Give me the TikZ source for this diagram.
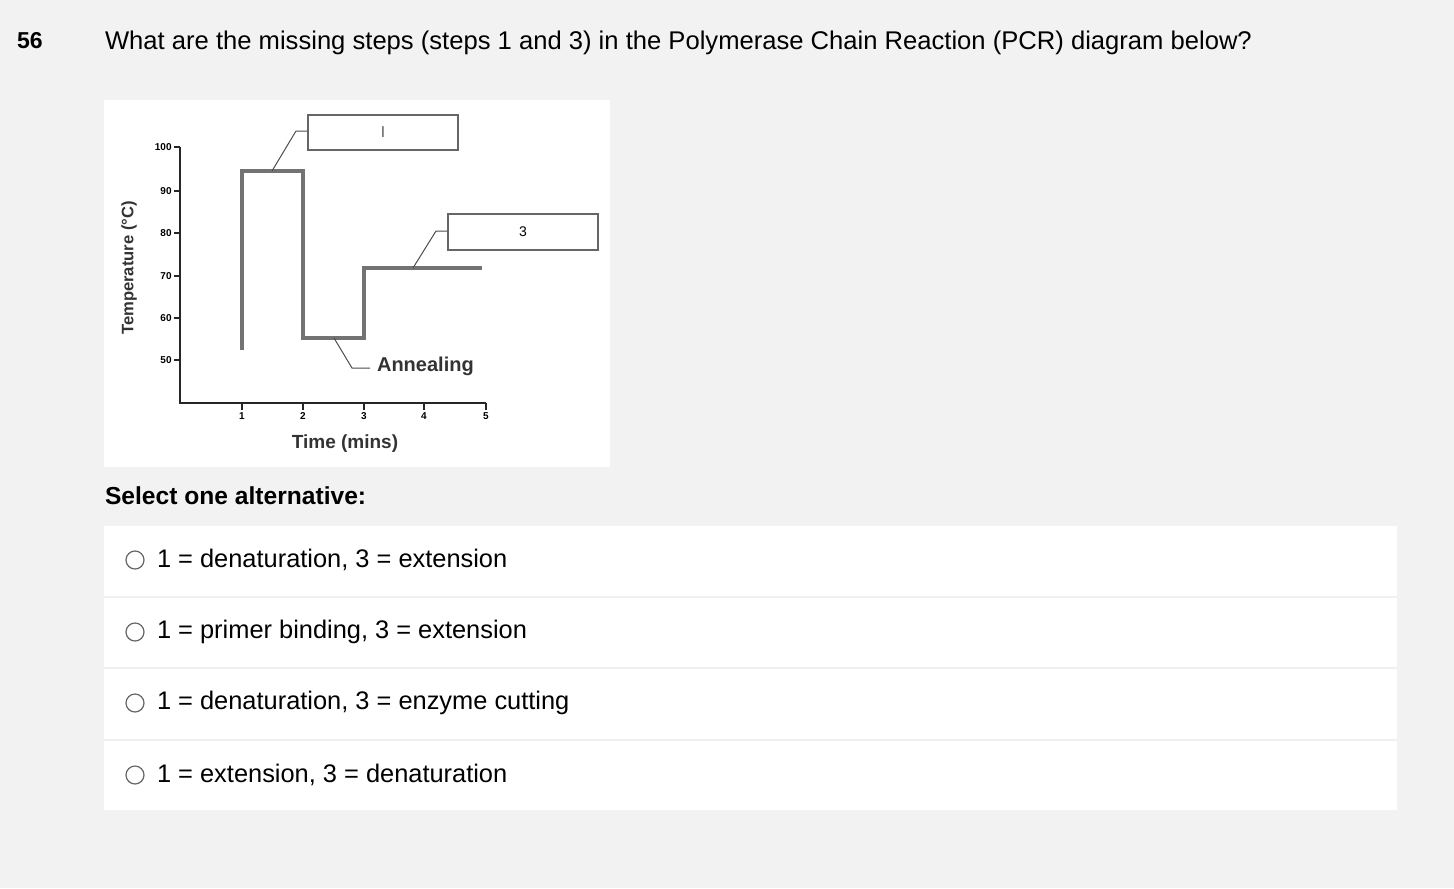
\documentclass[tikz,border=0pt]{standalone}
\usepackage{fontspec}
\setmainfont{Liberation Sans}
\begin{document}
\begin{tikzpicture}[x=0.5pt,y=-0.5pt,
  curve/.style={draw=black!55,line width=2pt},
  axis/.style={draw=black!85,line width=1pt},
  lead/.style={draw=black!70,line width=0.5pt},
  lbox/.style={draw=black!60,line width=0.8pt,fill=white},
  ytl/.style={anchor=east,inner sep=1pt,font=\fontsize{5}{6}\selectfont\bfseries},
  xtl/.style={anchor=north,inner sep=1pt,font=\fontsize{5}{6}\selectfont\bfseries},
  opt/.style={anchor=west,font=\fontsize{12.7}{15}\selectfont},
  radio/.style={draw=black!60,line width=0.6pt,fill=white}]
\useasboundingbox (0,0) rectangle (1454,888);
\fill[black!5] (0,0) rectangle (1454,888);
\node[anchor=west,font=\fontsize{11.5}{14}\selectfont\bfseries] (num) at (10,41) {56};
\node[anchor=west,font=\fontsize{12.8}{15}\selectfont] (q) at (98,43) {What are the missing steps (steps 1 and 3) in the Polymerase Chain Reaction (PCR) diagram below?};
\fill[white] (104,100) rectangle (610,467);
% axes
\draw[axis] (180,147) -- (180,403) -- (486,403);
\foreach \y/\t in {147/100,191/90,233/80,276/70,318/60,360/50}{
  \draw[axis,line width=0.7pt] (174,\y) -- (180,\y);
  \node[ytl] (yt\t) at (174,\y) {\t};}
\foreach \x/\t in {242/1,303/2,364/3,424/4,486/5}{
  \draw[axis,line width=0.7pt] (\x,403) -- (\x,410);
  \node[xtl] (xt\t) at (\x,410) {\t};}
\node[font=\fontsize{9.5}{10}\selectfont\bfseries,text=black!80] (xl) at (345,444) {Time (mins)};
\node[font=\fontsize{8.3}{9}\selectfont\bfseries,text=black!80,rotate=90] (yl) at (129,268) {Temperature (°C)};
\draw[curve] (242,350) -- (242,171) -- (303,171) -- (303,338) -- (364,338) -- (364,268) -- (482,268);
\node[lbox,minimum width=75pt,minimum height=17.5pt] (b1) at (383,132.5) {};
\node[font=\fontsize{7.5}{8}\selectfont,text=black!70] (b1t) at (b1) {l};
\node[lbox,minimum width=75pt,minimum height=18pt] (b3) at (523,232) {};
\node[font=\fontsize{7}{8}\selectfont] (b3t) at (b3) {3};
\coordinate (c1) at (272,171);
\draw[lead] (c1) -- (296,131) -- (b1.west |- 0,131);
\coordinate (c3) at (413,268);
\draw[lead] (c3) -- (436,231) -- (b3.west |- 0,231);
\node[anchor=west,font=\fontsize{10}{11}\selectfont\bfseries,text=black!80] (ann) at (370,366) {Annealing};
\coordinate (c2) at (334,338);
\draw[lead] (c2) -- (352,368) -- (ann.west |- 0,368);
\node[anchor=west,font=\fontsize{12.3}{14}\selectfont\bfseries] (sel) at (98,496) {Select one alternative:};
\fill[white] (104,526) rectangle (1397,810);
\foreach \y in {597,668,740}{\draw[black!6,line width=0.6pt] (104,\y) -- (1397,\y);}
\foreach \y/\t/\n in {560/{1 = denaturation, 3 = extension}/a,632/{1 = primer binding, 3 = extension}/b,703/{1 = denaturation, 3 = enzyme cutting}/c,775/{1 = extension, 3 = denaturation}/d}{
  \draw[radio] (135,\y) circle (9);
  \node[opt] (o\n) at (150,\y) {\t};}
\end{tikzpicture}
\end{document}
